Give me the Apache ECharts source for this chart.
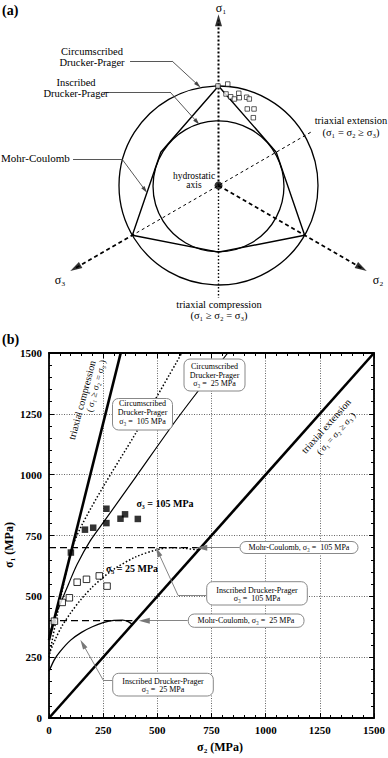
<!DOCTYPE html>
<html lang="en">
<head>
<meta charset="utf-8">
<title>Mohr-Coulomb / Drucker-Prager</title>
<style>
html, body { margin: 0; padding: 0; background: #fff; }
#main { width: 388px; height: 758px; }
</style>
</head>
<body>
<div id="main"></div>
<script src="https://cdn.jsdelivr.net/npm/echarts@6/dist/echarts.min.js"></script>
<script>
// ---------- panel (b): [sigma2, sigma1] in MPa ----------
var ticksB = [0, 250, 500, 750, 1000, 1250, 1500];
var extensionLine = [[0, 0], [1500, 1500]];
var compressionLine = [[0, 320], [331, 1500]];
var mc25 = [[0, 400], [385, 400]];
var mc105 = [[0, 700], [700, 700]];
var idp25 = [[0, 192], [25, 240], [50, 272], [100, 320], [150, 352], [200, 375], [250, 392], [300, 401], [340, 402], [365, 396], [385, 384]];
var idp105 = [[0, 262], [30, 325], [60, 378], [100, 432], [150, 490], [200, 538], [250, 578], [300, 612], [400, 662], [500, 692], [560, 700], [620, 698], [690, 690]];
var cdp25 = [[0, 335], [25, 409], [55, 475], [90, 550], [130, 632], [190, 728], [260, 815], [400, 990], [600, 1240], [825, 1500]];
var cdp105 = [[0, 250], [30, 390], [60, 520], [105, 694], [150, 790], [250, 950], [400, 1170], [613, 1500]];
var tests105 = [[101, 680], [166, 774], [204, 782], [265, 801], [265, 860], [330, 819], [351, 837], [410, 818]];
var tests25 = [[25, 398], [61, 475], [94, 494], [130, 558], [173, 570], [232, 584], [268, 542]];
// leader lines from the label boxes
var leadMC105 = [[880, 700], [705, 700]];
var leadMC25 = [[640, 400], [440, 400]];
var leadIDP105 = [[726, 505], [595, 505], [503, 683]];
var leadIDP25 = [[293, 156], [250, 156], [156, 304]];

// ---------- panel (a): deviatoric plane, [radius / R, angle deg] ----------
var mcHexagon = [[1, 90], [0.67, 150], [1, 210], [0.67, 270], [1, 330], [0.67, 30], [1, 90]];
var testsA = [[1.0, 90.3], [1.024, 84.8], [0.923, 85.3], [0.90, 82.2], [0.884, 79.6], [0.949, 77.6], [0.907, 76.7], [0.931, 72.3], [0.923, 70.4], [0.822, 69.4], [0.848, 65.1], [0.766, 62.8]];
var axisS1 = [[0, 90], [1.66, 90]];
var axisS2 = [[0, 330], [1.66, 330]];
var axisS3 = [[0.98, 210], [1.66, 210]];
var extensionDir = [[1.07, 30], [0, 0], [0.98, 210]];
var compressionDir = [[0, 270], [1.13, 270]];
var hydroPoint = [[0, 0]];
var innerRadius = 0.658;
// leaders in panel (a), units of R from the centre
var leadCircA = [[-0.889, 1.251], [-0.467, 1.251], [-0.206, 1.01]];
var leadInscA = [[-1.151, 0.94], [-0.487, 0.94], [-0.216, 0.638]];
var leadMCA = [[-1.462, 0.266], [-0.97, 0.266], [-0.739, -0.045]];

var SERIF = '"Liberation Serif", "DejaVu Serif", serif';
var cx = 218.5, cy = 185.5, R = 99.5;

function lineB(data, width, type, smooth) {
    return {
        type: 'line', xAxisIndex: 0, yAxisIndex: 0, data: data,
        symbol: 'none', smooth: smooth || false, silent: true,
        lineStyle: { color: '#000', width: width, type: type || 'solid' },
        z: 3
    };
}
function leader(pts, xi, yi, size, color) {
    var segs = [];
    for (var i = 0; i < pts.length - 1; i++) {
        var last = i === pts.length - 2;
        segs.push([
            { coord: pts[i], symbol: 'none' },
            { coord: pts[i + 1], symbol: last ? 'triangle' : 'none', symbolSize: size }
        ]);
    }
    return {
        type: 'line', xAxisIndex: xi, yAxisIndex: yi, data: [], silent: true,
        markLine: {
            silent: true, animation: false, label: { show: false },
            symbol: ['none', 'triangle'], symbolSize: size,
            lineStyle: { color: color, width: 0.9, type: 'solid' },
            itemStyle: { color: '#000' },
            data: segs
        }
    };
}
function lineA(data, width, type) {
    return {
        type: 'line', coordinateSystem: 'polar', polarIndex: 0, data: data,
        symbol: 'none', clip: false, silent: true,
        lineStyle: { color: '#000', width: width, type: type || 'solid' },
        z: 3
    };
}

var axisB = {
    type: 'value', min: ticksB[0], max: ticksB[ticksB.length - 1], interval: ticksB[1] - ticksB[0],
    axisLine: { show: true, onZero: false, lineStyle: { color: '#000', width: 1.8 } },
    axisTick: { show: true, inside: true, length: 5, lineStyle: { color: '#000', width: 1 } },
    minorTick: { show: true, splitNumber: 5, length: 3, lineStyle: { color: '#000', width: 1 } },
    splitLine: { show: true, lineStyle: { color: '#555', width: 0.9, type: [1, 1.5] } },
    axisLabel: {
        color: '#000', fontFamily: SERIF, fontWeight: 'bold', fontSize: 11,
        formatter: function (v) { return String(v); }
    }
};
function mirror(pos) {
    return Object.assign({}, axisB, {
        position: pos, gridIndex: 0,
        axisLabel: { show: false }, splitLine: { show: false }
    });
}

function txt(t, x, y, size, opts) {
    opts = opts || {};
    return {
        type: 'text', x: x, y: y, rotation: (opts.rot || 0) * Math.PI / 180, z: 110,
        style: {
            text: t, fill: '#000', align: opts.align || 'center', verticalAlign: 'middle',
            lineHeight: opts.lh || Math.round(size * 1.1),
            font: (opts.bold ? 'bold ' : '') + size + 'px ' + SERIF
        }
    };
}
function box(x, y, w, h, text, tx, ty) {
    return [{
        type: 'rect', z: 105,
        shape: { x: x, y: y, width: w, height: h, r: 6 },
        style: { fill: '#fff', stroke: '#888', lineWidth: 1 }
    }, txt(text, tx, ty, 8, { lh: 8.6 })];
}

var graphics = [
    txt('(a)', 2, 10, 14, { bold: true, align: 'left' }),
    txt('σ₁', 221, 8, 12),
    txt('σ₂', 378, 280, 12),
    txt('σ₃', 60, 280, 12),
    txt('Circumscribed\nDrucker-Prager', 92, 57, 10.5, { lh: 10.5 }),
    txt('Inscribed\nDrucker-Prager', 76, 88, 10.5, { lh: 10.5 }),
    txt('Mohr-Coulomb', 1, 158, 11, { align: 'left' }),
    txt('hydrostatic\naxis', 194, 180.5, 9.5, { lh: 9.6 }),
    txt('triaxial extension\n(σ₁ = σ₂ ≥ σ₃)', 351, 126, 10.5, { lh: 12 }),
    txt('triaxial compression\n(σ₁ ≥ σ₂ = σ₃)', 219, 309.5, 10.5, { lh: 11 }),
    txt('(b)', 2, 339, 14, { bold: true, align: 'left' }),
    txt('σ₁ (MPa)', 9, 545, 12, { bold: true, rot: 90 }),
    txt('σ₂ (MPa)', 220, 747, 12, { bold: true }),
    txt('σ₃ = 105 MPa', 165, 503, 10, { bold: true }),
    txt('σ₃ = 25 MPa', 132, 568.5, 10, { bold: true }),
    txt('triaxial compression', 82, 400, 10, { rot: 75 }),
    txt('( σ₁ ≥ σ₂ = σ₃ )', 96, 386, 9, { rot: 75 }),
    txt('triaxial extension', 326, 426, 10, { rot: 48.5 }),
    txt('( σ₁ = σ₂ ≥ σ₃ )', 336, 433.5, 9, { rot: 48.5 })
]
    .concat(box(184, 359, 61, 32, 'Circumscribed\nDrucker-Prager\nσ₃ =  25 MPa', 214.5, 375))
    .concat(box(112.5, 398.5, 60, 31.5, 'Circumscribed\nDrucker-Prager\nσ₃ =  105 MPa', 142.5, 412.5))
    .concat(box(240, 541.5, 118, 12, 'Mohr-Coulomb, σ₃ =  105 MPa', 299, 547.5))
    .concat(box(206.7, 581.7, 100.6, 23.3, 'Inscribed Drucker-Prager\nσ₃ =  105 MPa', 257, 594.5))
    .concat(box(188.3, 614, 115.7, 13.3, 'Mohr-Coulomb, σ₃ =  25 MPa', 246, 620.7))
    .concat(box(112.7, 673.3, 100.6, 22.7, 'Inscribed Drucker-Prager\nσ₃ =  25 MPa', 163, 685.5));

// polar 0 carries the data (radius axis 0..2 R), polar 1 and 2 only draw the two circles
var polarRadii = [2, 1, innerRadius];

var option = {
    backgroundColor: '#fff',
    animation: false,
    grid: [
        { left: 49, top: 353, width: 326, height: 365 },
        { left: cx - 2.1 * R, top: cy - 1.85 * R, width: 3.8 * R, height: 3.05 * R }
    ],
    xAxis: [
        Object.assign({}, axisB, { gridIndex: 0, position: 'bottom', axisLabel: Object.assign({}, axisB.axisLabel, { margin: 6 }) }),
        mirror('top'),
        { type: 'value', gridIndex: 1, min: -2.1, max: 1.7, show: false }
    ],
    yAxis: [
        Object.assign({}, axisB, { gridIndex: 0, position: 'left', axisLabel: Object.assign({}, axisB.axisLabel, { margin: 7 }) }),
        mirror('right'),
        { type: 'value', gridIndex: 1, min: -1.2, max: 1.85, show: false }
    ],
    polar: polarRadii.map(function (r, i) {
        return { center: [cx, cy + (i === 2 ? 0.8 : 0)], radius: r * R };
    }),
    angleAxis: polarRadii.map(function (r, i) {
        return {
            polarIndex: i, type: 'value', min: 0, max: 360, startAngle: 0, clockwise: false,
            axisLine: { show: i > 0, lineStyle: { color: '#000', width: 1.3 } },
            axisTick: { show: false }, axisLabel: { show: false }, splitLine: { show: false }
        };
    }),
    radiusAxis: polarRadii.map(function (r, i) {
        return {
            polarIndex: i, type: 'value', min: 0, max: r,
            axisLine: { show: false }, axisTick: { show: false }, axisLabel: { show: false }, splitLine: { show: false }
        };
    }),
    graphic: graphics,
    series: [
        lineB(extensionLine, 2.6),
        lineB(compressionLine, 2.6),
        lineB(cdp25, 1.2, 'solid', 0.3),
        lineB(cdp105, 1.5, [1.5, 2], 0.3),
        lineB(idp25, 1.3, 'solid', 0.3),
        lineB(idp105, 1.5, [1.5, 2], 0.3),
        lineB(mc25, 1.4, [7, 4]),
        lineB(mc105, 1.4, [7, 4]),
        {
            type: 'scatter', xAxisIndex: 0, yAxisIndex: 0, data: tests105, silent: true,
            symbol: 'rect', symbolSize: 6.5, itemStyle: { color: '#000' }, z: 5
        },
        {
            type: 'scatter', xAxisIndex: 0, yAxisIndex: 0, data: tests25, silent: true,
            symbol: 'rect', symbolSize: 6.5, itemStyle: { color: '#fff', borderColor: '#000', borderWidth: 1 }, z: 5
        },
        leader(leadMC105, 0, 0, [6, 11], '#777'),
        leader(leadMC25, 0, 0, [6, 11], '#777'),
        leader(leadIDP105, 0, 0, [5, 10], '#777'),
        leader(leadIDP25, 0, 0, [5, 10], '#777'),
        // panel (a)
        lineA(mcHexagon, 1.4),
        lineA(axisS1, 2, [2, 2]),
        lineA(axisS2, 1.8, [4, 3]),
        lineA(axisS3, 1.8, [4, 3]),
        lineA(extensionDir, 1, [3, 3]),
        lineA(compressionDir, 1.4, [1.5, 2]),
        {
            // arrow heads at the ends of the three principal stress axes
            type: 'scatter', coordinateSystem: 'polar', polarIndex: 0, silent: true,
            data: [axisS1[1], axisS2[1], axisS3[1]],
            symbol: 'triangle', symbolSize: [7, 12],
            symbolRotate: function (v) { return v[1] - 90; },
            itemStyle: { color: '#000' }, z: 5
        },
        {
            type: 'scatter', coordinateSystem: 'polar', polarIndex: 0, data: hydroPoint, silent: true,
            symbol: 'circle', symbolSize: 8, itemStyle: { color: '#000' }, z: 5
        },
        {
            type: 'scatter', coordinateSystem: 'polar', polarIndex: 0, data: testsA, silent: true,
            symbol: 'rect', symbolSize: 4.5, itemStyle: { color: '#fff', borderColor: '#000', borderWidth: 0.8 }, z: 5
        },
        leader(leadCircA, 2, 2, [4, 7], '#444'),
        leader(leadInscA, 2, 2, [4, 7], '#444'),
        leader(leadMCA, 2, 2, [4, 7], '#444')
    ]
};

var chart = echarts.init(document.getElementById('main'), null, { renderer: 'svg' });
chart.setOption(option);
</script>
</body>
</html>
